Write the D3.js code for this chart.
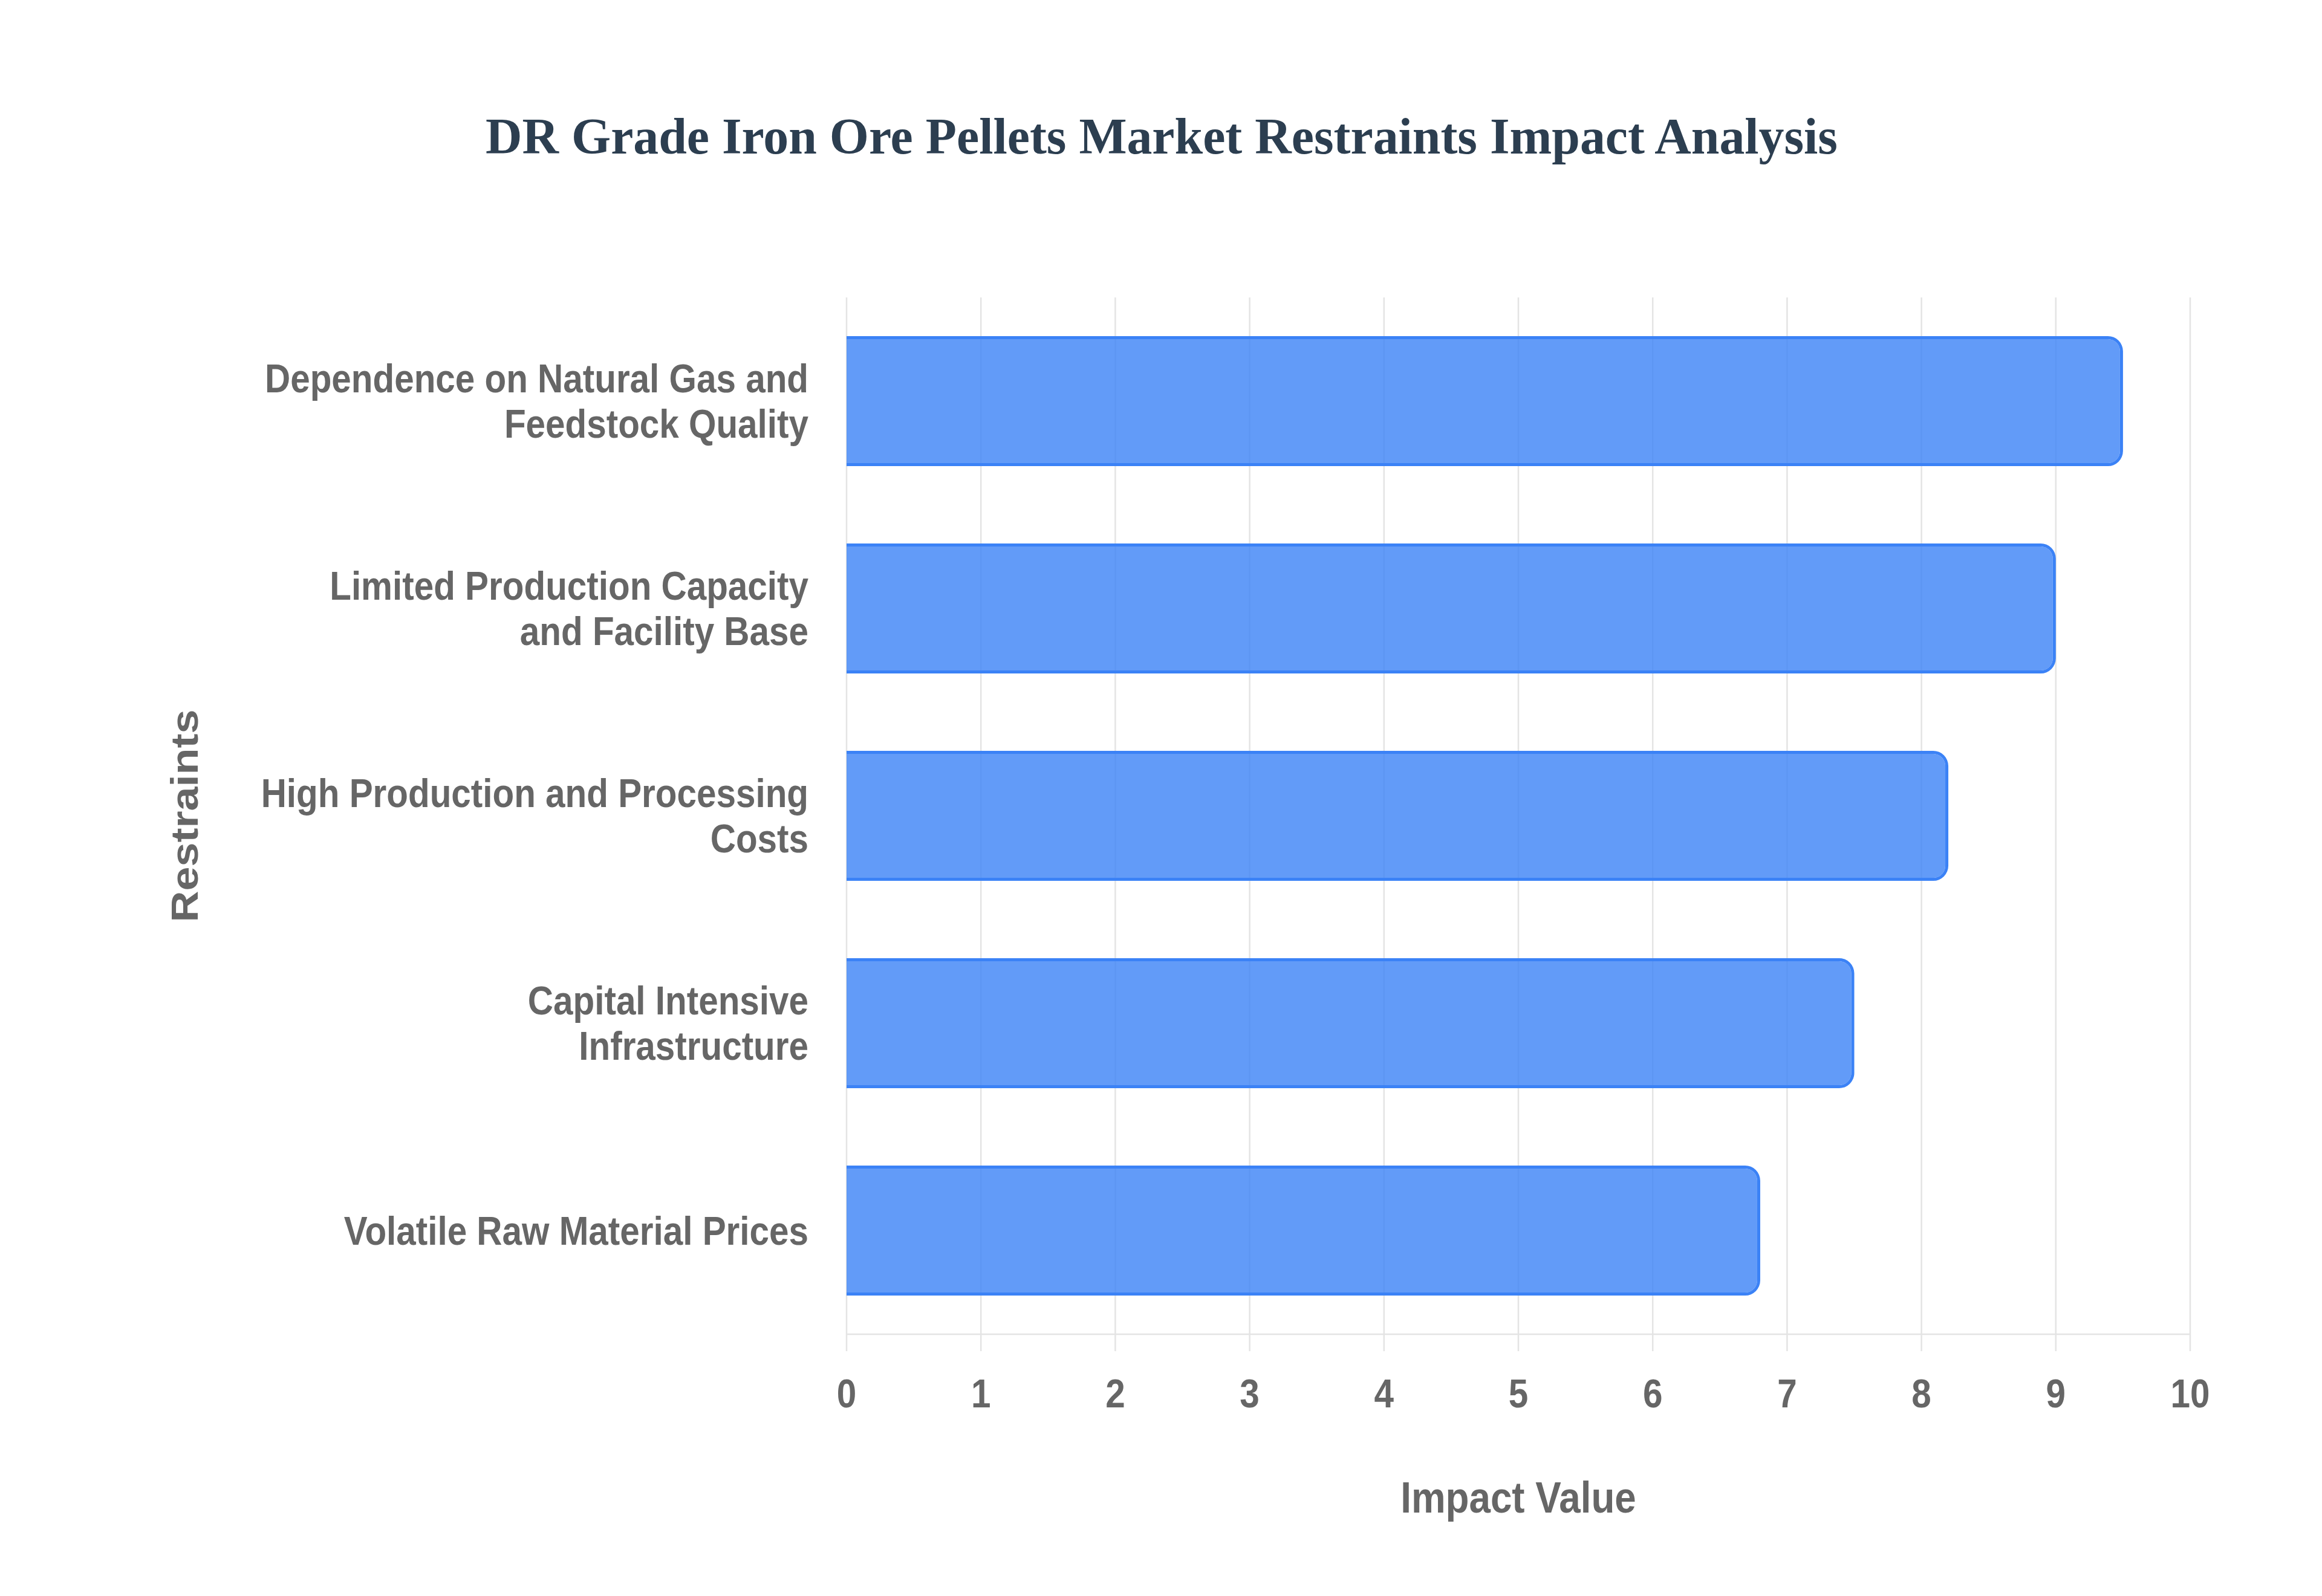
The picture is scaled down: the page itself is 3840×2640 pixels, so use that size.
<!DOCTYPE html>
<html>
<head>
<meta charset="utf-8">
<script src="https://cdn.jsdelivr.net/npm/d3@7"></script>
<style>
  html, body { margin: 0; padding: 0; background: #ffffff; }
  svg { display: block; }
</style>
</head>
<body>
<svg id="chart"></svg>
<script>
// ---- data ----
const categories = [
  "Dependence on Natural Gas and Feedstock Quality",
  "Limited Production Capacity and Facility Base",
  "High Production and Processing Costs",
  "Capital Intensive Infrastructure",
  "Volatile Raw Material Prices"
];
const categoryLines = [
  ["Dependence on Natural Gas and", "Feedstock Quality"],
  ["Limited Production Capacity", "and Facility Base"],
  ["High Production and Processing", "Costs"],
  ["Capital Intensive", "Infrastructure"],
  ["Volatile Raw Material Prices"]
];
const impactValues = [9.5, 9.0, 8.2, 7.5, 6.8];
const xTickValues = [0, 1, 2, 3, 4, 5, 6, 7, 8, 9, 10];
const chartTitle = "DR Grade Iron Ore Pellets Market Restraints Impact Analysis";
const xAxisTitle = "Impact Value";
const yAxisTitle = "Restraints";

// ---- layout ----
const W = 3840, H = 2640;
const K = 0.885;            // horizontal compression of the reference rendering
const VW = W / K;
const X = px => px / K;

const svg = d3.select("#chart")
  .attr("width", W).attr("height", H)
  .attr("viewBox", `0 0 ${VW} ${H}`)
  .attr("preserveAspectRatio", "none");

const plotTop = 492, plotBottom = 2207;
const x = d3.scaleLinear().domain([0, 10]).range([X(1400), X(3622)]);
const y = d3.scaleBand().domain(categories).range([plotTop, plotBottom])
  .paddingInner(0.373).paddingOuter(0.1865);

const gridColor = "#e4e4e4";
const textColor = "#666666";
const sansFont = "'Liberation Sans', Arial, Helvetica, sans-serif";

// grid lines + ticks
const grid = svg.append("g");
grid.selectAll("line.v").data(xTickValues).join("line")
  .attr("x1", d => x(d)).attr("x2", d => x(d))
  .attr("y1", plotTop).attr("y2", plotBottom + 28)
  .attr("stroke", gridColor).attr("stroke-width", 2.5)
  .attr("vector-effect", "non-scaling-stroke");
grid.append("line")
  .attr("x1", x(0)).attr("x2", x(10))
  .attr("y1", plotBottom).attr("y2", plotBottom)
  .attr("stroke", gridColor).attr("stroke-width", 2.5)
  .attr("vector-effect", "non-scaling-stroke");

// bars
const bw = 5;      // border width (screen px)
const rad = 25;    // corner radius (screen px)
function barPath(x0, x1, y0, y1, r) {
  const rx = X(r), ry = r;
  return `M${x0},${y0} H${x1 - rx} A${rx},${ry} 0 0 1 ${x1},${y0 + ry} V${y1 - ry} A${rx},${ry} 0 0 1 ${x1 - rx},${y1} H${x0} Z`;
}
const bars = svg.append("g").selectAll("g").data(categories).join("g");
bars.each(function(c, i) {
  const g = d3.select(this);
  const x0 = x(0), x1 = x(impactValues[i]);
  const y0 = y(c), y1 = y(c) + y.bandwidth();
  const outer = barPath(x0, x1, y0, y1, rad);
  const inner = barPath(x0, x1 - X(bw), y0 + bw, y1 - bw, rad - bw);
  g.append("path").attr("d", outer + " " + inner)
    .attr("fill-rule", "evenodd").attr("fill", "#3b82f6");
  g.append("path").attr("d", inner).attr("fill", "rgba(59,130,246,0.8)");
});

// x tick labels
svg.append("g").selectAll("text").data(xTickValues).join("text")
  .attr("x", d => x(d)).attr("y", 2328)
  .attr("text-anchor", "middle")
  .attr("font-family", sansFont).attr("font-weight", "bold")
  .attr("font-size", 66).attr("fill", textColor)
  .text(d => d);

// y category labels
const yl = svg.append("g").selectAll("text").data(categories).join("text")
  .attr("text-anchor", "end")
  .attr("font-family", sansFont).attr("font-weight", "bold")
  .attr("font-size", 66).attr("fill", textColor);
yl.each(function(c, i) {
  const lines = categoryLines[i];
  const cy = y(c) + y.bandwidth() / 2;
  const lh = 75;
  const firstBase = cy + 23.5 - (lines.length - 1) * lh / 2;
  d3.select(this).selectAll("tspan").data(lines).join("tspan")
    .attr("x", X(1337)).attr("y", (d, j) => firstBase + j * lh)
    .text(d => d);
});

// axis titles
svg.append("text")
  .attr("x", (x(0) + x(10)) / 2).attr("y", 2502)
  .attr("text-anchor", "middle")
  .attr("font-family", sansFont).attr("font-weight", "bold")
  .attr("font-size", 72).attr("fill", textColor)
  .text(xAxisTitle);

svg.append("text")
  .attr("transform", `translate(${X(327)},${(plotTop + plotBottom) / 2}) rotate(-90)`)
  .attr("text-anchor", "middle")
  .attr("font-family", sansFont).attr("font-weight", "bold")
  .attr("font-size", 72).attr("fill", textColor)
  .text(yAxisTitle);

// chart title
svg.append("text")
  .attr("x", X(1921)).attr("y", 254)
  .attr("text-anchor", "middle")
  .attr("font-family", "'Liberation Serif', 'Times New Roman', Times, serif")
  .attr("font-weight", "bold")
  .attr("font-size", 84).attr("fill", "#2c3e50")
  .attr("textLength", X(2236))
  .attr("lengthAdjust", "spacingAndGlyphs")
  .text(chartTitle);
</script>
</body>
</html>
